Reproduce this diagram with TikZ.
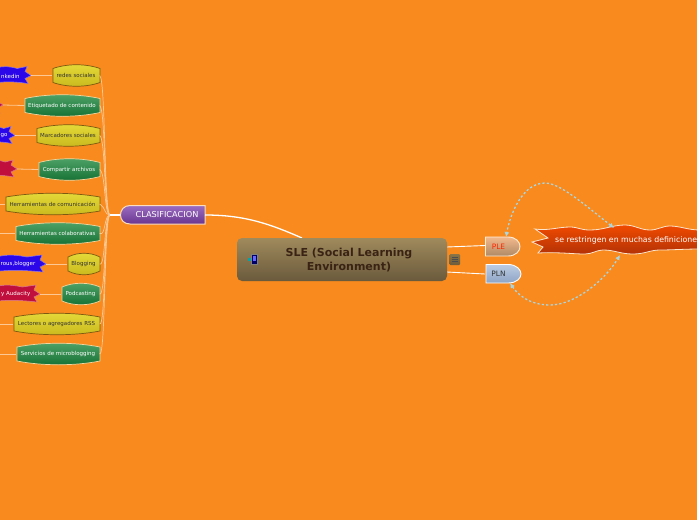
\documentclass[tikz,border=0pt]{standalone}
\usepackage{fontspec}
\setmainfont{DejaVu Sans}
\usetikzlibrary{arrows.meta,calc}
\definecolor{bg}{HTML}{F88A1E}
\definecolor{link}{HTML}{FDC894}
\definecolor{dashc}{HTML}{A9D6E0}
\definecolor{yellowedge}{HTML}{7C5A10}
\definecolor{yellowtop}{HTML}{E4DA38}
\definecolor{yellowbot}{HTML}{C9B81E}
\definecolor{greenedge}{HTML}{F2D6A0}
\definecolor{greentop}{HTML}{4FA368}
\definecolor{greenbot}{HTML}{147034}
\definecolor{starblue}{HTML}{2A06E8}
\definecolor{starred}{HTML}{C00F3C}
\definecolor{midtop}{HTML}{A08A5C}
\definecolor{midbot}{HTML}{6A5A3C}
\definecolor{midtext}{HTML}{3A2314}
\definecolor{vtop}{HTML}{9A6CC0}
\definecolor{vbot}{HTML}{6A3590}
\definecolor{pletop}{HTML}{F4B88C}
\definecolor{plebot}{HTML}{AE8A66}
\definecolor{plntop}{HTML}{BCCBE2}
\definecolor{plnbot}{HTML}{8EA5C6}
\definecolor{redtop}{HTML}{F04A00}
\definecolor{redbot}{HTML}{B43206}
\definecolor{menutop}{HTML}{8A7448}
\definecolor{menubot}{HTML}{6E5C3A}
\tikzset{
  lbl/.style={inner sep=0pt,font=\fontsize{5.5}{7}\selectfont},
  startext/.style={inner sep=0pt,anchor=west,text=white,font=\fontsize{5.5}{7}\selectfont},
  yel/.style={draw=yellowedge,line width=.7pt,top color=yellowtop,bottom color=yellowbot},
  grn/.style={draw=greenedge,line width=.7pt,top color=greentop,bottom color=greenbot},
  thin link/.style={draw=link,line width=.8pt},
  white link/.style={draw=white,line width=1.1pt},
  dashlink/.style={draw=dashc,line width=1.3pt,dash pattern=on 2.2pt off 2.2pt,{Latex[length=5pt,width=5pt]}-{Latex[length=5pt,width=5pt]}},
}
% \bulge{name}{x1}{x2}{yc}{style}{textcolor}{text}
\newcommand{\bulge}[7]{%
  \path[#5] (#2,#4-7) .. controls ({#2+(#3-#2)*.3},#4-12) and ({#3-(#3-#2)*.3},#4-12) .. (#3,#4-7)
    -- (#3,#4+7) .. controls ({#3-(#3-#2)*.3},#4+12) and ({#2+(#3-#2)*.3},#4+12) .. (#2,#4+7) -- cycle;
  \node[lbl,text=#6,minimum width={(#3-#2)*1pt},minimum height=16pt] (#1) at ({(#2+#3)/2-.5},#4) {#7};
}
% \blob{name}{xleft}{xright}{yc}{fill}
\newcommand{\blob}[5]{%
  \path[fill=#5,draw=#5!55!white,line width=.5pt] (#2,#4)
    -- (#2+6,#4-3) -- (#2+1,#4-8) .. controls (#2+10,#4-8) and (#2+14,#4-6) .. ({#2+(#3-#2)*.35},#4-7)
    .. controls ({#2+(#3-#2)*.5},#4-10) and ({#2+(#3-#2)*.6},#4-9) .. ({#2+(#3-#2)*.75},#4-7)
    -- (#3-4,#4-9) -- (#3-6,#4-4) -- (#3,#4) -- (#3-6,#4+3) -- (#3-3,#4+8)
    .. controls ({#2+(#3-#2)*.7},#4+6) and ({#2+(#3-#2)*.55},#4+6) .. ({#2+(#3-#2)*.4},#4+7)
    .. controls ({#2+(#3-#2)*.25},#4+9) and (#2+10,#4+7) .. (#2+1,#4+8) -- (#2+6,#4+3) -- cycle;
  \coordinate (#1) at (#3,#4);
}
\begin{document}
\begin{tikzpicture}[x=1pt,y=-1pt]
\useasboundingbox (0,0) rectangle (697,520);
\fill[bg] (0,0) rectangle (697,520);
\clip (0,0) rectangle (697,520);

\coordinate (hub) at (110,215);

% ---- star-shaped leaves
\blob{s1}{-24}{31}{75.5}{starblue}
\blob{s2}{-30}{3}{105}{starred}
\blob{s3}{-30}{15}{135.5}{starblue}
\blob{s4}{-30}{17}{169}{starred}
\blob{s7}{-30}{46}{264}{starblue}
\blob{s8}{-30}{40}{294}{starred}
\node[startext] (t1) at (1,76) {nkedin};
\node[startext] (t3) at (0.5,136) {go};
\node[startext] (t7) at (0.5,264) {rous,blogger};
\node[startext] (t8) at (1,294) {y Audacity};

\coordinate (e5) at (0,204);
\coordinate (e6) at (0,233.5);
\coordinate (e9) at (0,324);
\coordinate (e10) at (0,354);

% ---- leaves
\bulge{n1}{53}{100}{75.5}{yel}{black!80}{redes sociales}
\bulge{n2}{25}{100}{105.5}{grn}{white}{Etiquetado de contenido}
\bulge{n3}{37}{100}{135.5}{yel}{black!80}{Marcadores sociales}
\bulge{n4}{39}{100}{169.5}{grn}{white}{Compartir archivos}
\bulge{n5}{6}{100}{204}{yel}{black!80}{Herramientas de comunicación}
\bulge{n6}{16}{100}{233.5}{grn}{white}{Herramientas colaborativas}
\bulge{n7}{68}{100}{264}{yel}{black!80}{Blogging}
\bulge{n8}{62}{100}{294}{grn}{white}{Podcasting}
\bulge{n9}{14}{100}{324}{yel}{black!80}{Lectores o agregadores RSS}
\bulge{n10}{17}{100}{354}{grn}{white}{Servicios de microblogging}

\draw[thin link] (s1) -- (n1.west);
\draw[thin link] (s2) -- (n2.west);
\draw[thin link] (s3) -- (n3.west);
\draw[thin link] (s4) -- (n4.west);
\draw[thin link] (e5) -- (n5.west);
\draw[thin link] (e6) -- (n6.west);
\draw[thin link] (s7) -- (n7.west);
\draw[thin link] (s8) -- (n8.west);
\draw[thin link] (e9) -- (n9.west);
\draw[thin link] (e10) -- (n10.west);

\foreach \n in {n1,n2,n3,n4,n5,n6,n7,n8,n9,n10}
  \draw[thin link,line width=.7pt] (\n.east) .. controls +(6,3) and (104,215) .. (hub);
\draw[white link] (hub) -- (120,215);

% ---- CLASIFICACION
\path[draw=link!60!white,line width=1pt,top color=vtop,bottom color=vbot]
  (205,205.5) -- (130,205.5) .. controls (124,205.5) and (120.5,210) .. (120.5,215)
  .. controls (120.5,220) and (124,224) .. (130,224) -- (205,224) -- cycle;
\node[inner sep=0pt,font=\fontsize{8.2}{9}\selectfont,text=white] (cl) at (167,215) {CLASIFICACION};
\coordinate (clE) at (205,215);

% ---- central node
\coordinate (cN) at (302,238);
\draw[white link,line width=1.3pt] (clE) .. controls (245,215) and (270,224) .. (cN);
\draw[white link,line width=.9pt] (447,247) -- (485,245.5);
\draw[white link,line width=.9pt] (447,272) -- (485,274);
\path[rounded corners=5pt,top color=midtop,bottom color=midbot,draw=none]
  (237,238) rectangle (447,281);
\node[inner sep=0pt,font=\bfseries\fontsize{11}{14}\selectfont,text=midtext,align=center] (c) at (349,260)
  {SLE (Social Learning\\Environment)};
\fill[teal!70!cyan] (248,258) rectangle (251,260.5);
\path[fill=black!60!blue,draw=black!50,line width=.4pt] (251.5,254.5) rectangle (257,264.5);
\fill[blue!60!white] (252.5,256) rectangle (256,261);
\path[rounded corners=1pt,top color=menutop,bottom color=menubot] (449.5,254) rectangle (460,265);
\foreach \yy in {257.5,259.5,261.5} \draw[black!70,line width=.5pt] (451.5,\yy) -- (458,\yy);

% ---- PLE / PLN
\path[draw=white!85!orange,line width=.9pt,top color=pletop,bottom color=plebot]
  (485.5,237) -- (508,237) .. controls (516,237) and (520,242) .. (520,246.5) .. controls (520,251) and (516,256) .. (508,256) -- (485.5,256) -- cycle;
\node[inner sep=0pt,font=\fontsize{7.4}{8}\selectfont,text=red!70!orange] (ple) at (498.5,247) {PLE};
\path[draw=white,line width=.9pt,top color=plntop,bottom color=plnbot]
  (486,264.5) -- (508,264.5) .. controls (517,264.5) and (521,270) .. (521,274) .. controls (521,278) and (517,283) .. (508,283) -- (486,283) -- cycle;
\node[inner sep=0pt,font=\fontsize{7.4}{8}\selectfont,text=black!80] (pln) at (498.5,274) {PLN};

% ---- red shape
\path[draw=white!80!orange,line width=.8pt,top color=redtop,bottom color=redbot]
  (535,229) .. controls (548,231) and (558,227) .. (570,227) .. controls (578,227) and (580,230) .. (590,230)
  .. controls (604,230) and (612,225) .. (625,225) .. controls (635,225) and (640,230) .. (650,230)
  .. controls (658,230) and (662,226) .. (670,226) .. controls (680,226) and (688,230) .. (700,230)
  -- (700,249) .. controls (685,249) and (672,250) .. (660,250) .. controls (650,250) and (645,254) .. (633,254)
  .. controls (620,254) and (615,250) .. (603,250) .. controls (597,250) and (592,254) .. (585,254)
  .. controls (572,254) and (560,252) .. (538,253)
  -- (543,247) -- (532,242) -- (548,238) -- cycle;
\node[inner sep=0pt,font=\fontsize{7.8}{9}\selectfont,text=white,anchor=west] (r) at (555,240) {se restringen en muchas definicione};

% ---- dashed relations
\coordinate (r1) at (614,228);
\coordinate (r2) at (620,255);
\coordinate (pleT) at (506,237);
\coordinate (plnB) at (510,283);
\draw[dashlink] (r1) .. controls (585,205) and (560,183) .. (545,183) .. controls (522,183) and (510,215) .. (pleT);
\draw[dashlink] (plnB) .. controls (518,295) and (530,305) .. (550,305) .. controls (575,305) and (605,280) .. (r2);
\end{tikzpicture}
\end{document}
